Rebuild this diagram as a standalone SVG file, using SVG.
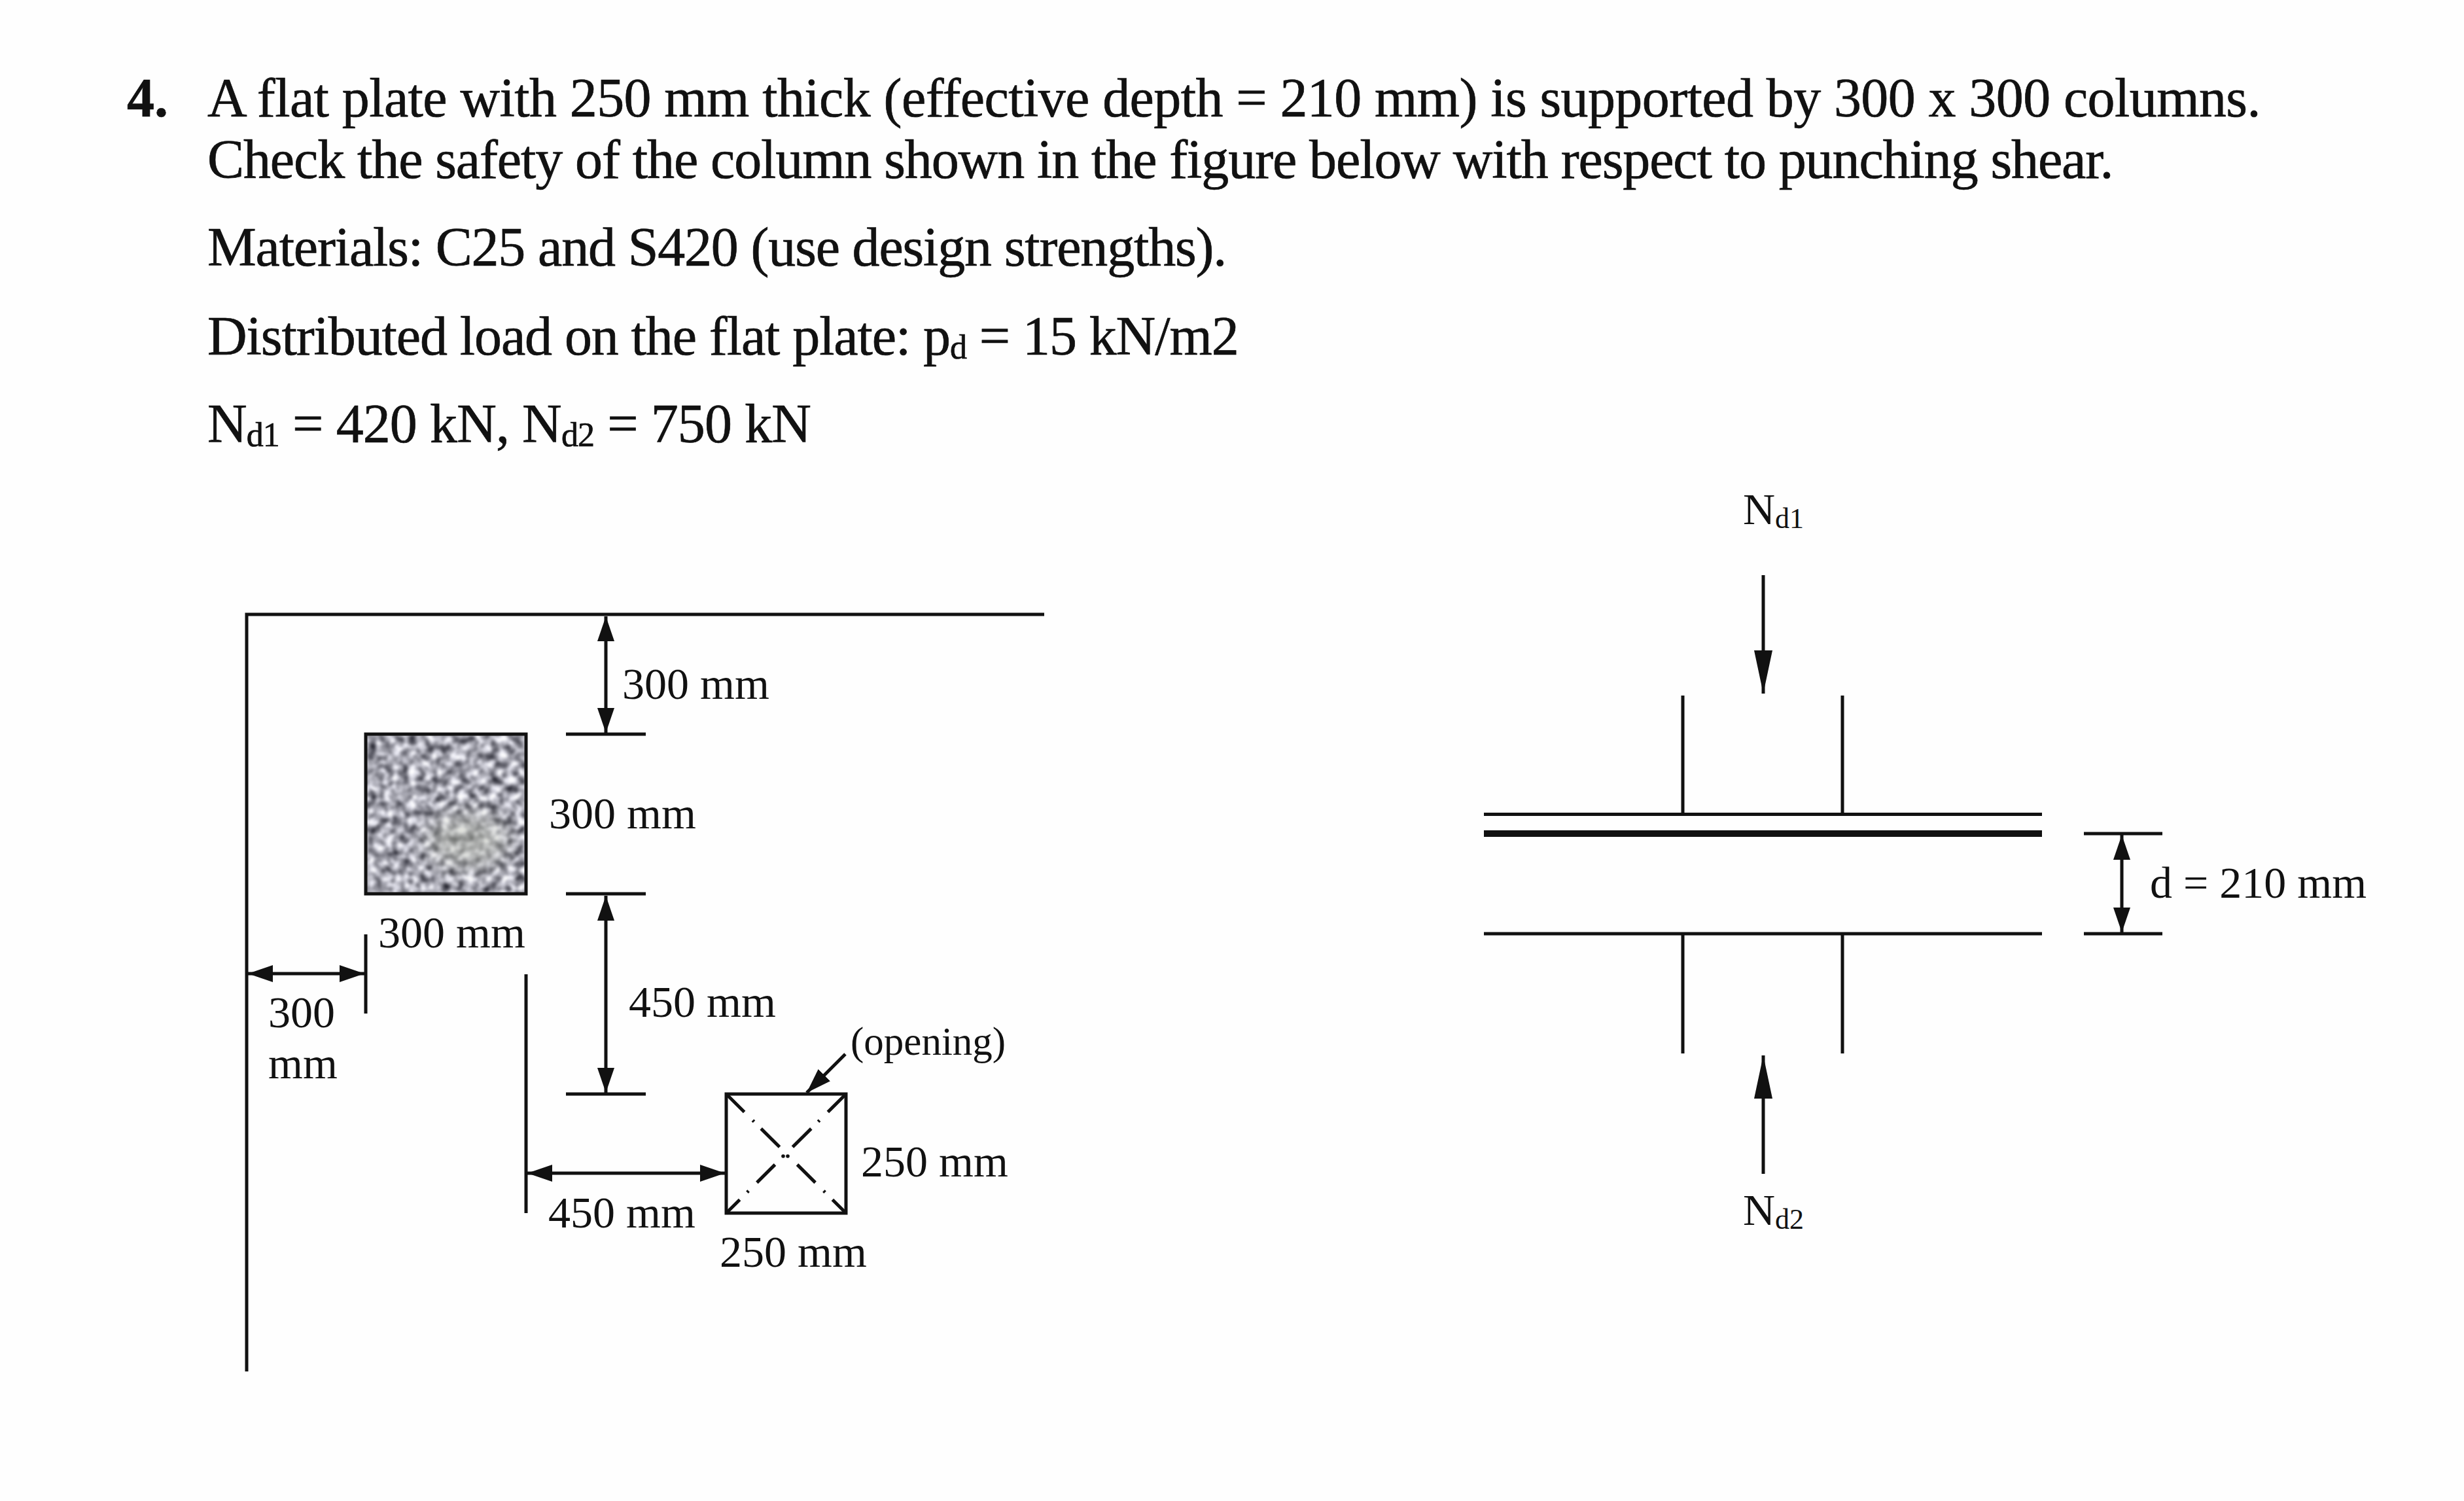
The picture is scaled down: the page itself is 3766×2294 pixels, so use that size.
<svg xmlns="http://www.w3.org/2000/svg" width="3766" height="2294" viewBox="0 0 3766 2294">
<style>
text{font-family:"Liberation Serif","Times New Roman",serif;fill:#111}
.h{font-size:84px;stroke:#111;stroke-width:0.7}
.l{font-size:68px}
.o{font-size:61px}
.s{font-size:52px}
.ss{font-size:44px}
.b{font-weight:bold}
line{stroke:#111;fill:none}
.m{stroke-width:5}
.e{stroke-width:5;stroke-dasharray:39 18 3 15 40 38 39 18 3 16 40}
</style>
<defs>
<marker id="a" viewBox="0 0 38 26" refX="38" refY="13" markerWidth="38" markerHeight="26" markerUnits="userSpaceOnUse" orient="auto-start-reverse"><path d="M0 0L38 13L0 26Z" fill="#111"/></marker>
<marker id="f" viewBox="0 0 66 28" refX="66" refY="14" markerWidth="66" markerHeight="28" markerUnits="userSpaceOnUse" orient="auto-start-reverse"><path d="M0 0L66 14L0 28Z" fill="#111"/></marker>
<filter id="mottle" x="0" y="0" width="1" height="1" color-interpolation-filters="sRGB">
<feTurbulence type="fractalNoise" baseFrequency="0.08" numOctaves="2" seed="11"/>
<feColorMatrix type="matrix" values="1.5 0 0 0 -0.1  1.5 0 0 0 -0.1  1.5 0 0 0 -0.06  0 0 0 0 1"/>
<feGaussianBlur stdDeviation="2"/>
</filter>
<filter id="soft" x="-40%" y="-40%" width="180%" height="180%"><feGaussianBlur stdDeviation="16"/></filter>
<clipPath id="colclip"><rect x="559" y="1122" width="245" height="244"/></clipPath>
</defs>
<rect width="3766" height="2294" fill="#fefefe"/>
<g id="problem-text">
<text class="h b" x="194" y="178">4.</text>
<text class="h" x="317" y="178" letter-spacing="-0.6">A flat plate with 250 mm thick (effective depth = 210 mm) is supported by 300 x 300 columns.</text>
<text class="h" x="317" y="272" letter-spacing="-1.1">Check the safety of the column shown in the figure below with respect to punching shear.</text>
<text class="h" x="317" y="406" letter-spacing="-1.17">Materials: C25 and S420 (use design strengths).</text>
<text class="h" x="317" y="542" letter-spacing="-1.1">Distributed load on the flat plate: p<tspan class="s" dy="6">d</tspan><tspan dy="-6"> = 15 kN/m2</tspan></text>
<text class="h" x="317" y="676" letter-spacing="-0.9">N<tspan class="s" dy="6">d1</tspan><tspan dy="-6"> = 420 kN, N</tspan><tspan class="s" dy="6">d2</tspan><tspan dy="-6"> = 750 kN</tspan></text>
</g>
<g id="slab-edge"><path d="M377 2096V939H1596" fill="none" stroke="#111" stroke-width="5"/></g>
<g id="column-plan">
<rect x="559" y="1122" width="245" height="244" fill="#aaa" filter="url(#mottle)"/>
<g clip-path="url(#colclip)"><ellipse cx="715" cy="1285" rx="62" ry="42" fill="#bcc0b0" opacity="0.45" filter="url(#soft)"/></g>
<rect x="559" y="1122" width="245" height="244" fill="none" stroke="#111" stroke-width="5"/>
</g>
<g id="opening">
<rect x="1110" y="1672" width="183" height="182" fill="#fefefe" stroke="#111" stroke-width="5"/>
<line class="e" x1="1110" y1="1672" x2="1293" y2="1854"/>
<line class="e" x1="1293" y1="1672" x2="1110" y2="1854"/>
<circle cx="1197" cy="1767" r="2.800" fill="#111"/>
<circle cx="1204" cy="1767" r="2.800" fill="#111"/>
</g>
<g id="connectors">
<line class="m" x1="926" y1="942" x2="926" y2="1120" marker-start="url(#a)" marker-end="url(#a)"/>
<line class="m" x1="865" y1="1122" x2="987" y2="1122"/>
<line class="m" x1="865" y1="1366" x2="987" y2="1366"/>
<line class="m" x1="926" y1="1369" x2="926" y2="1670" marker-start="url(#a)" marker-end="url(#a)"/>
<line class="m" x1="865" y1="1672" x2="987" y2="1672"/>
<line class="m" x1="559" y1="1428" x2="559" y2="1549"/>
<line class="m" x1="379" y1="1488" x2="557" y2="1488" marker-start="url(#a)" marker-end="url(#a)"/>
<line class="m" x1="804" y1="1489" x2="804" y2="1854"/>
<line class="m" x1="806" y1="1793" x2="1108" y2="1793" marker-start="url(#a)" marker-end="url(#a)"/>
<line class="m" x1="1292" y1="1611" x2="1233" y2="1670" marker-end="url(#a)"/>
<line class="m" x1="2572" y1="1063" x2="2572" y2="1244"/>
<line class="m" x1="2816" y1="1063" x2="2816" y2="1244"/>
<line class="m" x1="2268" y1="1244.500" x2="3121" y2="1244.500"/>
<line x1="2268" y1="1274" x2="3121" y2="1274" stroke-width="10"/>
<line class="m" x1="2268" y1="1427" x2="3121" y2="1427"/>
<line class="m" x1="2572" y1="1427" x2="2572" y2="1610"/>
<line class="m" x1="2816" y1="1427" x2="2816" y2="1610"/>
<line class="m" x1="2695" y1="879" x2="2695" y2="1060" marker-end="url(#f)"/>
<line class="m" x1="2695" y1="1794" x2="2695" y2="1613" marker-end="url(#f)"/>
<line class="m" x1="3185" y1="1274" x2="3305" y2="1274"/>
<line class="m" x1="3185" y1="1427" x2="3305" y2="1427"/>
<line class="m" x1="3243" y1="1276" x2="3243" y2="1425" marker-start="url(#a)" marker-end="url(#a)"/>
</g>
<g id="labels">
<text class="l" x="951" y="1068">300 mm</text>
<text class="l" x="839" y="1266">300 mm</text>
<text class="l" x="578" y="1448">300 mm</text>
<text class="l" x="410" y="1570">300</text>
<text class="l" x="410" y="1648">mm</text>
<text class="l" x="961" y="1554">450 mm</text>
<text class="o" x="1300" y="1612">(opening)</text>
<text class="l" x="1316" y="1798">250 mm</text>
<text class="l" x="838" y="1876">450 mm</text>
<text class="l" x="1100" y="1936">250 mm</text>
<text class="l" x="2664" y="801">N<tspan class="ss" dy="6">d1</tspan></text>
<text class="l" x="2664" y="1872">N<tspan class="ss" dy="6">d2</tspan></text>
<text class="l" x="3286" y="1372">d = 210 mm</text>
</g>
</svg>
